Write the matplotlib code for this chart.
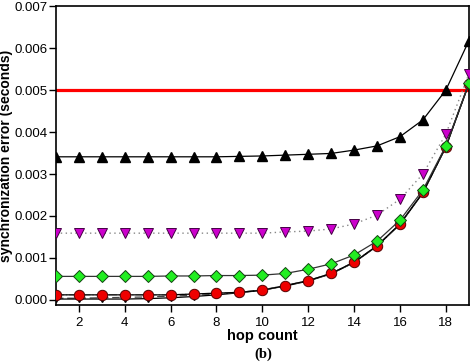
import matplotlib
matplotlib.use('Agg')
import matplotlib.pyplot as plt

plt.rcParams['font.family'] = ['Liberation Sans', 'DejaVu Sans']

# hop count
hops = list(range(1, 20))

# synchronization error (seconds) for each scheme
err_tri_up = [0.00341, 0.00341, 0.00341, 0.00341, 0.00341, 0.00341, 0.00341, 0.00341, 0.00342, 0.00343,
              0.00345, 0.00347, 0.00349, 0.00357, 0.00367, 0.00389, 0.00429, 0.00500, 0.00617]
err_tri_down = [0.00159, 0.00159, 0.00159, 0.00159, 0.00159, 0.00159, 0.00159, 0.00159, 0.00159, 0.00159,
                0.00162, 0.00164, 0.00169, 0.00181, 0.00202, 0.00240, 0.00300, 0.00395, 0.00538]
err_diamond = [0.00056, 0.00056, 0.00056, 0.00056, 0.00056, 0.00057, 0.00057, 0.00058, 0.00058, 0.00059,
               0.00063, 0.00073, 0.00086, 0.00107, 0.00140, 0.00190, 0.00262, 0.00367, 0.00516]
err_circle = [0.00012, 0.00012, 0.00012, 0.00012, 0.00012, 0.00012, 0.00014, 0.00016, 0.00018, 0.00023,
              0.00034, 0.00046, 0.00063, 0.00090, 0.00129, 0.00181, 0.00256, 0.00365, 0.00515]
err_low1 = [0.00002, 0.00002, 0.00002, 0.00002, 0.00003, 0.00005, 0.00008, 0.00012, 0.00017, 0.00023,
            0.00033, 0.00045, 0.00062, 0.00089, 0.00128, 0.00180, 0.00255, 0.00364, 0.00514]
err_low2 = [0.00004, 0.00004, 0.00005, 0.00006, 0.00007, 0.00009, 0.00011, 0.00014, 0.00018, 0.00024,
            0.00034, 0.00046, 0.00063, 0.00090, 0.00129, 0.00181, 0.00256, 0.00365, 0.00515]
threshold = 0.005

fig = plt.figure(figsize=(4.74, 3.63), dpi=100)
ax = fig.add_axes([0.118, 0.160, 0.871, 0.823])

ax.axhline(threshold, color='#ff0000', lw=2.3, zorder=2)

ax.plot(hops, err_low2, color='#444444', ls=(0, (6, 3)), lw=0.9, zorder=3)
ax.plot(hops, err_low1, color='black', ls='-', lw=0.9, marker='v', ms=5,
        mfc='#333333', mec='black', zorder=3)
ax.plot(hops, err_circle, color='#999999', ls='-.', lw=0.9, zorder=3)
ax.plot(hops, err_circle, color='black', ls='-', lw=0.9, marker='o', ms=7.5,
        mfc='#ee0000', mec='#550000', mew=0.7, zorder=4)
ax.plot(hops, err_diamond, color='#333333', ls='-', lw=0.9, marker='D', ms=6,
        mfc='#22ee22', mec='#114411', mew=0.7, zorder=5)
ax.plot(hops, err_tri_down, color='#888888', ls=(0, (1, 2.5)), lw=1.0, marker='v', ms=7.5,
        mfc='#cc00cc', mec='#440044', mew=0.7, zorder=5)
ax.plot(hops, err_tri_up, color='black', ls='-', lw=0.9, marker='^', ms=7,
        mfc='black', mec='black', zorder=5)

ax.set_xlim(1, 19)
ax.set_ylim(-0.00012, 0.007)
ax.set_xticks(range(2, 19, 2))
ax.set_yticks([0.000, 0.001, 0.002, 0.003, 0.004, 0.005, 0.006, 0.007])
ax.set_yticklabels(['0.000', '0.001', '0.002', '0.003', '0.004', '0.005', '0.006', '0.007'])
ax.tick_params(direction='out', length=5, width=1, labelsize=9.5, colors='black')
ax.tick_params(axis='y', pad=1)
ax.tick_params(axis='x', pad=4)
for s in ax.spines.values():
    s.set_linewidth(1.2)

ax.set_ylabel('synchronization error (seconds)', fontsize=10, fontweight='bold')
ax.yaxis.set_label_coords(-0.104, 0.5)
ax.set_xlabel('hop count', fontsize=10.5, fontweight='bold')
ax.xaxis.set_label_coords(0.5, -0.082)
fig.text(0.555, 0.006, '(b)', fontsize=10.5, fontweight='bold',
         family=['Liberation Serif', 'DejaVu Serif'], ha='center', va='bottom')

fig.savefig('out.png', dpi=100)
